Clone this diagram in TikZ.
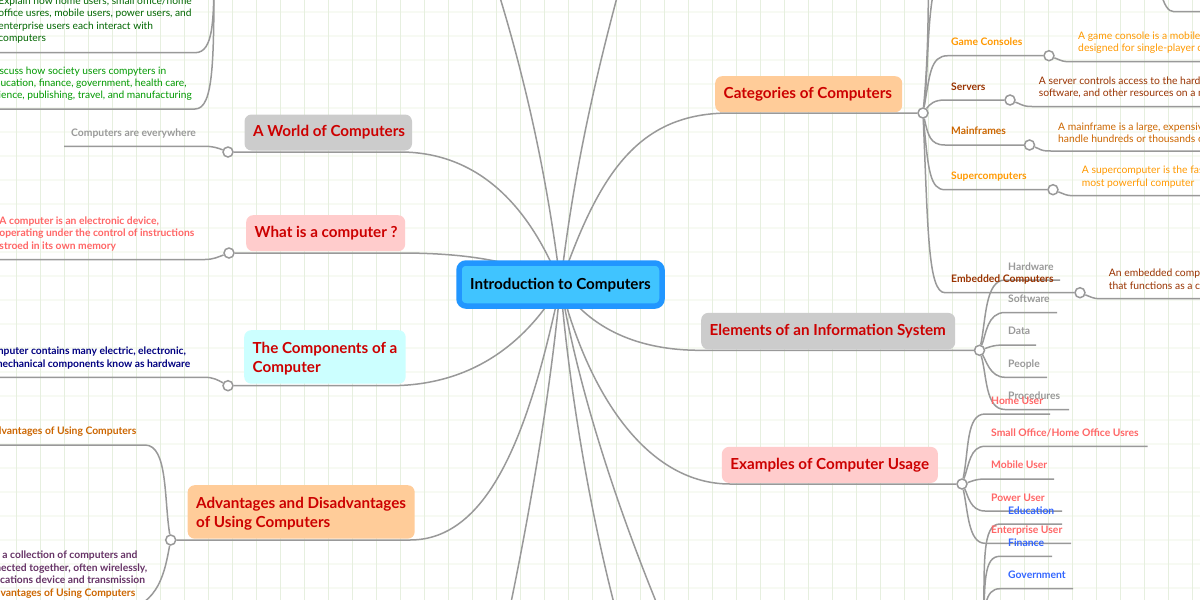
\documentclass[tikz,border=0pt]{standalone}
\usepackage{fontspec}
\setmainfont{Lato}
\usetikzlibrary{backgrounds}
\definecolor{gridv}{HTML}{E6EFDF}
\definecolor{gridh}{HTML}{F7FAF3}
\definecolor{wire}{HTML}{999999}
\definecolor{topicred}{HTML}{CC0000}
\definecolor{cOrange}{HTML}{FF9900}
\definecolor{cRust}{HTML}{993300}
\definecolor{cAmber}{HTML}{CC6600}
\definecolor{cGrey}{HTML}{999999}
\definecolor{cPink}{HTML}{FF6666}
\definecolor{cBlue}{HTML}{3366FF}
\definecolor{cGreen}{HTML}{009900}
\definecolor{cDGreen}{HTML}{006600}
\definecolor{cNavy}{HTML}{000080}
\definecolor{cPurple}{HTML}{663366}
\newcommand{\sohotext}{Small Office/Home Office Usres}
\tikzset{
  x=1pt,y=-1pt,
  conn/.style={draw=wire,line width=1.5pt},
  hub/.style={circle,draw=wire,fill=white,line width=1.5pt,minimum size=10pt,inner sep=0pt},
  topic/.style={rectangle,rounded corners=7pt,inner xsep=8.5pt,inner ysep=0pt,anchor=north west,align=flush left,text=topicred,font=\fontsize{15.2}{19}\bfseries\selectfont},
  label/.style={inner sep=0pt,anchor=base west,font=\fontsize{10.35}{12.4}\bfseries\selectfont},
  desc/.style={inner sep=0pt,align=left,font=\fontsize{10.3}{12.4}\bfseries\selectfont},
  note/.style={inner sep=0pt,align=left,anchor=south west,font=\fontsize{10.35}{12.4}\selectfont},
  notesm/.style={note,anchor=south east,font=\fontsize{10.2}{12.4}\selectfont},
}
\begin{document}
\begin{tikzpicture}
\useasboundingbox (0,0) rectangle (1200,600);
% central node
\node[rectangle,rounded corners=7pt,draw={rgb,255:red,33;green,150;blue,255},line width=5.5pt,fill={rgb,255:red,64;green,196;blue,255},minimum width=203pt,minimum height=43pt,inner sep=0pt] (ctr) at (560.5,284.5) {};
\node[inner sep=0pt,font=\fontsize{15.2}{18}\bfseries\selectfont] (ctrText) at (560.5,285) {Introduction to Computers};
% topics
\node[topic,fill={rgb,255:red,204;green,204;blue,204},text width=150.5pt,minimum height=36pt] (tWorld) at (244.3,114.3) {\raisebox{-0.6pt}{A World of Computers}};
\node[topic,fill={rgb,255:red,255;green,204;blue,204},text width=142pt,minimum height=36pt] (tWhat) at (246,215) {\raisebox{-0.6pt}{What is a computer ?}};
\node[topic,fill={rgb,255:red,204;green,255;blue,255},text width=144.5pt,minimum height=53.5pt] (tComp) at (244,330) {\rule{0pt}{14.5pt}\mbox{The Components of a}\\\mbox{Computer}};
\node[topic,fill={rgb,255:red,255;green,204;blue,153},text width=210pt,minimum height=53.5pt] (tAdv) at (187.5,485) {\rule{0pt}{14.5pt}\mbox{Advantages and Disadvantages}\\\mbox{of Using Computers}};
\node[topic,fill={rgb,255:red,255;green,204;blue,153},text width=170pt,minimum height=36pt] (tCat) at (715,76) {\raisebox{-0.6pt}{Categories of Computers}};
\node[topic,fill={rgb,255:red,204;green,204;blue,204},text width=237pt,minimum height=36.5pt] (tEl) at (701,312.7) {\raisebox{-0.6pt}{Elements of an Information System}};
\node[topic,fill={rgb,255:red,255;green,204;blue,204},text width=199pt,minimum height=36pt] (tEx) at (721.7,446.7) {\raisebox{-0.6pt}{Examples of Computer Usage}};
% hubs
\node[hub] (hWorld) at (228,152) {};
\node[hub] (hWhat) at (229,253) {};
\node[hub] (hComp) at (228,385.7) {};
\node[hub] (hAdv) at (170.7,540) {};
\node[hub] (hCat) at (923,113) {};
\node[hub] (hEl) at (979.5,350.3) {};
\node[hub] (hEx) at (962,484) {};
\node[hub] (hGame) at (1049,55.7) {};
\node[hub] (hServ) at (1010,100) {};
\node[hub] (hMain) at (1029.5,145) {};
\node[hub] (hSup) at (1053,189.7) {};
\node[hub] (hEmb) at (1080,292.7) {};
% free ends
\coordinate (hUse) at (214,-40);
\coordinate (hBlue) at (984,640);
\coordinate (endExplain) at (-20,52.7);
\coordinate (endDiscuss) at (-20,109);
\coordinate (endEvery) at (64,146.3);
\coordinate (endWhat) at (-20,259.5);
\coordinate (endComp) at (-20,377.3);
\coordinate (endAdv) at (-20,445);
\coordinate (endNet) at (120,612);
\coordinate (endUpL) at (493,-25);
\coordinate (endUpR) at (623,-25);
\coordinate (endDownA) at (503,640);
\coordinate (endDownB) at (624,640);
\coordinate (endDownC) at (672,640);
\coordinate (endCatUp) at (934,-10);
\coordinate (endCatUpB) at (928.5,-10);
\coordinate (endTopR) at (1220,11.7);
\coordinate (endTopRs) at (1160,-10);
\coordinate (endGame) at (1220,61.7);
\coordinate (endServ) at (1220,106.5);
\coordinate (endMain) at (1220,151);
\coordinate (endSup) at (1220,195.7);
\coordinate (endEmb) at (1220,298.7);
% left texts
\node[label,text=cGrey] (lEvery) at (71,136) {Computers are everywhere};
\node[notesm,text=cDGreen] (lExplain) at (192,43.5) {Explain how home users, small office/home\\office usres, mobile users, power users, and\\enterprise users each interact with\\computers};
\node[notesm,text=cGreen] (lDiscuss) at (192,101) {Discuss how society users compyters in\\education, finance, government, health care,\\science, publishing, travel, and manufacturing};
\node[desc,anchor=south east,text=cPink] (lWhat) at (194.5,251) {A computer is an electronic device,\\operating under the control of instructions\\stroed in its own memory};
\node[desc,anchor=south east,text=cNavy] (lComp) at (190.5,369) {A computer contains many electric, electronic,\\and mechanical components know as hardware};
\node[label,anchor=base east,text=cAmber] (lAdv) at (136.5,434.5) {Advantages of Using Computers};
\node[desc,anchor=south east,text=cPurple] (lNet) at (147.5,584) {A network is a collection of computers and\\devices connected together, often wirelessly,\\via communications device and transmission};
\node[label,anchor=base east,text=cAmber] (lDis) at (135.5,596) {Disadvantages of Using Computers};
% category labels
\node[label,text=cOrange] (lGame) at (951,45) {Game Consoles};
\node[label,text=cRust] (lServ) at (951,90) {Servers};
\node[label,text=cAmber] (lMain) at (951,134.5) {Mainframes};
\node[label,text=cOrange] (lSup) at (951,179) {Supercomputers};
\node[label,text=cRust] (lEmb) at (951,282) {Embedded Computers};
\node[note,text=cOrange] (nGame) at (1078,54) {A game console is a mobile computing device\\designed for single-player or multiplayer games};
\node[note,text=cRust] (nServ) at (1038.7,98.5) {A server controls access to the hardware,\\software, and other resources on a network};
\node[note,text=cAmber] (nMain) at (1058,143) {A mainframe is a large, expensive, powerful\\handle hundreds or thousands of connected users};
\node[note,text=cOrange] (nSup) at (1081.7,188) {A supercomputer is the fastest,\\most powerful computer};
\node[note,text=cRust] (nEmb) at (1108.7,291) {An embedded computer is a special-purpose\\that functions as a component};
% elements, usage, education labels
\foreach \nm/\ty/\uy/\ex/\tx in {Hardware/270/280/1060/Hardware,Software/302/312.5/1057/Software,Data/334/345/1036/Data,People/367/377.3/1047/People,Proc/399/409.5/1069/Procedures}{
  \node[label,text=cGrey] (l\nm) at (1008,\ty) {\tx};
  \coordinate (u\nm) at (\ex,\uy);
}
\foreach \nm/\ty/\uy/\ex/\tx in {Home/404/414/1050/Home User,Soho/436/446.3/1147.7/\sohotext,Mob/468/479/1054/Mobile User,Pow/501/511/1062/Power User,Ent/533/543.3/1071/Enterprise User}{
  \node[label,text=cPink] (l\nm) at (991,\ty) {\tx};
  \coordinate (u\nm) at (\ex,\uy);
}
\foreach \nm/\ty/\uy/\ex/\tx in {Edu/514/524/1062/Education,Fin/546/556.3/1052/Finance,Gov/578/588.7/1073/Government}{
  \node[label,text=cBlue] (l\nm) at (1008,\ty) {\tx};
  \coordinate (u\nm) at (\ex,\uy);
}
\coordinate (uNext) at (1060,621);
\begin{pgfonlayer}{background}
  \fill[white] (0,0) rectangle (1200,600);
  \foreach \i in {0,...,24}{\draw[gridh,line width=1.6pt] (0,{11.7+24*\i}) -- (1200,{11.7+24*\i});}
  \foreach \i in {0,...,49}{\draw[gridv,line width=0.9pt] ({16.7+24*\i},0) -- ({16.7+24*\i},600);}
  % centre to topics
  \draw[conn] (ctr.center) .. controls (525,195) and (470,152) .. (400,152) -- (hWorld);
  \draw[conn] (ctr.center) .. controls (520,262) and (470,253) .. (400,253) -- (hWhat);
  \draw[conn] (ctr.center) .. controls (525,345) and (470,385.7) .. (390,385.7) -- (hComp);
  \draw[conn] (ctr.center) .. controls (530,430) and (490,540) .. (410,540) -- (hAdv);
  \draw[conn] (ctr.center) .. controls (600,170) and (640,113) .. (730,113) -- (hCat);
  \draw[conn] (ctr.center) .. controls (590,330) and (640,350.3) .. (700,350.3) -- (hEl);
  \draw[conn] (ctr.center) .. controls (590,400) and (650,484) .. (730,484) -- (hEx);
  \draw[conn] (ctr.center) .. controls (545,160) and (520,60) .. (endUpL);
  \draw[conn] (ctr.center) .. controls (575,160) and (600,60) .. (endUpR);
  \draw[conn] (ctr.center) .. controls (550,400) and (525,540) .. (endDownA);
  \draw[conn] (ctr.center) .. controls (570,400) and (595,540) .. (endDownB);
  \draw[conn] (ctr.center) .. controls (580,400) and (625,530) .. (endDownC);
  % left branches
  \draw[conn] (hWorld) .. controls (218,148) and (213,146.3) .. (205,146.3) -- (endEvery);
  \draw[conn] (hWhat) .. controls (218,257) and (213,259.5) .. (205,259.5) -- (endWhat);
  \draw[conn] (hComp) .. controls (218,380) and (213,377.3) .. (205,377.3) -- (endComp);
  \draw[conn] (hUse) .. controls (214,20) and (214,52.7) .. (195,52.7) -- (endExplain);
  \draw[conn] (hUse) .. controls (214,60) and (214,109) .. (195,109) -- (endDiscuss);
  \draw[conn] (hAdv) .. controls (164,500) and (168,445) .. (145,445) -- (endAdv);
  \draw[conn] (hAdv) .. controls (165,570) and (160,605) .. (endNet);
  % category branches
  \draw[conn] (hCat) .. controls (928,80) and (927,20) .. (endCatUp);
  \draw[conn] (hCat) .. controls (928,60) and (928,20) .. (endCatUpB);
  \draw[conn] (hCat) .. controls (930,75) and (930,55.7) .. (948,55.7) -- (hGame);
  \draw[conn] (hGame) -- ++(8,3.2) .. controls (1062,61) and (1064,61.7) .. (1070,61.7) -- (endGame);
  \draw[conn] (hCat) .. controls (930,104) and (934,100) .. (945,100) -- (hServ);
  \draw[conn] (hServ) -- ++(8,3.2) .. controls (1024,106) and (1026,106.5) .. (1032,106.5) -- (endServ);
  \draw[conn] (hCat) .. controls (928,135) and (930,145) .. (945,145) -- (hMain);
  \draw[conn] (hMain) -- ++(8,3.2) .. controls (1043,151) and (1045,151) .. (1051,151) -- (endMain);
  \draw[conn] (hCat) .. controls (928,170) and (930,189.7) .. (945,189.7) -- (hSup);
  \draw[conn] (hSup) -- ++(8,3.2) .. controls (1067,195.5) and (1069,195.7) .. (1075,195.7) -- (endSup);
  \draw[conn] (hCat) .. controls (928,230) and (928,292.7) .. (945,292.7) -- (hEmb);
  \draw[conn] (hEmb) -- ++(8,3.2) .. controls (1094,298.5) and (1096,298.7) .. (1102,298.7) -- (endEmb);
  \draw[conn] (endTopRs) .. controls (1164,5) and (1168,11.7) .. (1174,11.7) -- (endTopR);
  % elements
  \draw[conn] (hEl) .. controls (986,320) and (985,280) .. (1005,280) -- (uHardware);
  \draw[conn] (hEl) .. controls (986,335) and (987,312.5) .. (1005,312.5) -- (uSoftware);
  \draw[conn] (hEl) .. controls (987,348) and (992,345) .. (1004,345) -- (uData);
  \draw[conn] (hEl) .. controls (986,360) and (990,377.3) .. (1005,377.3) -- (uPeople);
  \draw[conn] (hEl) .. controls (987,375) and (985,409.5) .. (1005,409.5) -- (uProc);
  % usage
  \draw[conn] (hEx) .. controls (969,450) and (966,414) .. (985,414) -- (uHome);
  \draw[conn] (hEx) .. controls (969,465) and (970,446.3) .. (985,446.3) -- (uSoho);
  \draw[conn] (hEx) .. controls (970,482) and (975,479) .. (985,479) -- (uMob);
  \draw[conn] (hEx) .. controls (968,495) and (970,511) .. (985,511) -- (uPow);
  \draw[conn] (hEx) .. controls (968,510) and (968,543.3) .. (985,543.3) -- (uEnt);
  % blue group
  \draw[conn] (hBlue) .. controls (984,560) and (982,524) .. (1000,524) -- (uEdu);
  \draw[conn] (hBlue) .. controls (984,580) and (984,556.3) .. (1000,556.3) -- (uFin);
  \draw[conn] (hBlue) .. controls (984,610) and (984,588.7) .. (1000,588.7) -- (uGov);
  \draw[conn] (hBlue) .. controls (985,630) and (985,621) .. (1000,621) -- (uNext);
\end{pgfonlayer}
\end{tikzpicture}
\end{document}
